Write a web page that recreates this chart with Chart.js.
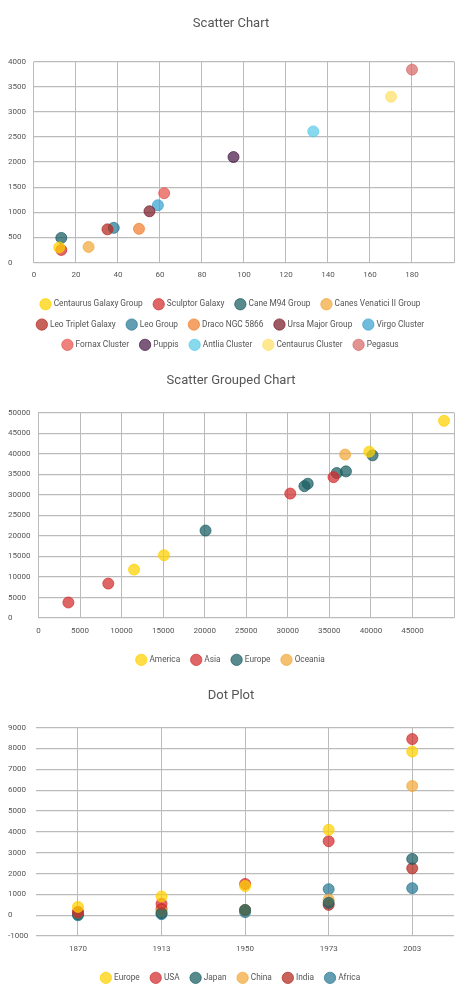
<!DOCTYPE html>
<html><head><meta charset="utf-8">
<script src="https://cdn.jsdelivr.net/npm/chart.js@4"></script>
<style>body{margin:0;background:#fff;width:474px}div{position:relative;width:474px}</style>
</head><body>
<div style="height:365px"><canvas id="c1"></canvas></div>
<div style="height:315px"><canvas id="c2"></canvas></div>
<div style="height:318px"><canvas id="c3"></canvas></div>
<script>
const s1Names=["Centaurus Galaxy Group","Sculptor Galaxy","Cane M94 Group","Canes Venatici II Group","Leo Triplet Galaxy","Leo Group","Draco NGC 5866","Ursa Major Group","Virgo Cluster","Fornax Cluster","Puppis","Antlia Cluster","Centaurus Cluster","Pegasus"];
const s1X=[12,13,13,26,35,38,50,55,59,62,95,133,170,180];
const s1Y=[300,250,490,310,660,690,670,1020,1140,1380,2100,2610,3300,3840];
const s1Colors=["#ffd000","#d32f2f","#1a5e63","#f2a93b","#b22a1e","#2a7a96","#f08030","#7b1f2b","#3ba3d0","#e8554e","#4b1d4a","#5ccbe8","#ffe066","#d96b6b"];

const s2Names=["America","Asia","Europe","Oceania"];
const s2Colors=["#ffd000","#d32f2f","#1a5e63","#f2a93b"];
const s2X=[[11500,15100,39800,48800],[3600,8400,30300,35500],[20100,32000,32400,35900,37000,40200],[36900]];
const s2Y=[[11800,15300,40500,48000],[3800,8400,30300,34300],[21300,32100,32700,35300,35700,39600],[39800]];

const s3Years=["1870","1913","1950","1973","2003"];
const s3Names=["Europe","USA","Japan","China","India","Africa"];
const s3Colors=["#ffd000","#d32f2f","#1a5e63","#f2a93b","#b22a1e","#2a7a96"];
const s3Vals=[[400,900,1400,4100,7850],[150,550,1500,3550,8450],[50,100,250,600,2700],[100,200,250,750,6200],[150,300,250,500,2250],[0,50,150,1250,1300]];

Chart.defaults.font.family="Roboto";
Chart.defaults.color="#555";
const alpha=c=>c+"bb";
const tk=(o)=>Object.assign({font:{size:8},color:"#555"},o);
function scales(xopt,yopt){
  return {
    x:Object.assign({grid:{color:"#bbb",drawTicks:false},border:{display:false}},xopt),
    y:Object.assign({grid:{color:"#bbb",drawTicks:false,lineWidth:1.3},border:{display:false}},yopt)
  };
}
function opts(title,sc,pad,tb){
  return {responsive:true,maintainAspectRatio:false,animation:false,
    layout:{padding:pad},
    plugins:{title:{display:true,text:title,font:{size:13,weight:"normal"},color:"#555",padding:{top:8,bottom:tb}},
      legend:{position:"bottom",labels:{usePointStyle:true,pointStyle:"circle",boxWidth:8,boxHeight:8,font:{size:8.3},padding:12,color:"#555"}},tooltip:{enabled:false}},
    scales:sc};
}
const fmt=max=>(v)=>v===max?"":String(v);

new Chart(document.getElementById("c1"),{type:"scatter",
  data:{datasets:s1Names.map((n,i)=>({label:n,data:[{x:s1X[i],y:s1Y[i]}],backgroundColor:alpha(s1Colors[i]),borderColor:alpha(s1Colors[i]),pointRadius:5.5}))},
  options:opts("Scatter Chart",scales({min:0,max:200,ticks:tk({padding:8,stepSize:20,callback:fmt(200)})},{min:0,max:4000,ticks:tk({padding:4,crossAlign:"far",stepSize:500,callback:fmt(null)})}),{left:8,right:20,top:8,bottom:6},30)});

new Chart(document.getElementById("c2"),{type:"scatter",
  data:{datasets:s2Names.map((n,i)=>({label:n,data:s2X[i].map((x,j)=>({x:x,y:s2Y[i][j]})),backgroundColor:alpha(s2Colors[i]),borderColor:alpha(s2Colors[i]),pointRadius:5.5}))},
  options:opts("Scatter Grouped Chart",scales({min:0,max:50000,ticks:tk({padding:8,stepSize:5000,callback:fmt(50000)})},{min:0,max:50000,ticks:tk({padding:4,crossAlign:"far",stepSize:5000,callback:fmt(null)})}),{left:8,right:20,top:0,bottom:6},24)});

new Chart(document.getElementById("c3"),{type:"line",
  data:{labels:s3Years,datasets:s3Names.map((n,i)=>({label:n,data:s3Vals[i],showLine:false,backgroundColor:alpha(s3Colors[i]),borderColor:alpha(s3Colors[i]),pointRadius:5.5}))},
  options:opts("Dot Plot",scales({offset:true,grid:{color:"#bbb",drawTicks:false,offset:false},ticks:tk({padding:8})},{min:-1000,max:9000,ticks:tk({padding:4,crossAlign:"far",stepSize:1000,callback:fmt(null)})}),{left:8,right:20,top:0,bottom:6},24)});
</script>
</body></html>
